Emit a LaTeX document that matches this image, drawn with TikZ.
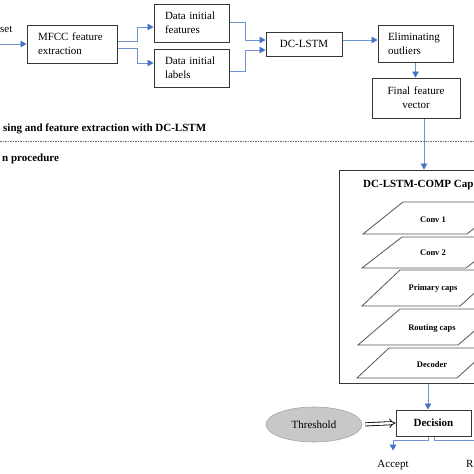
\documentclass[tikz,border=0pt]{standalone}
\usepackage{fontspec}
\setmainfont{Liberation Serif}
\usetikzlibrary{arrows.meta,shapes.geometric,calc}
\definecolor{arrblue}{RGB}{68,114,196}
\definecolor{linblue}{RGB}{112,146,206}
\definecolor{boxgray}{RGB}{55,55,55}
\definecolor{ellfill}{RGB}{200,200,200}
\definecolor{ellline}{RGB}{165,165,165}
\definecolor{dashgray}{RGB}{110,110,110}
\begin{document}
\begin{tikzpicture}[x=1pt,y=-1pt,
  every node/.style={font=\fontsize{11}{14}\selectfont},
  box/.style={draw=boxgray, line width=1pt, fill=white, inner xsep=11pt, font=\fontsize{11}{14}\selectfont},
  arr/.style={draw=linblue, line width=0.9pt, -{Triangle[length=6pt,width=6.5pt,color=arrblue]}},
  link/.style={draw=linblue, line width=0.9pt},
  layer/.style={draw=boxgray!85, line width=0.8pt, fill=white},
  lab/.style={font=\fontsize{8.5}{10}\selectfont\bfseries},
  sect/.style={font=\fontsize{11}{13}\selectfont\bfseries, anchor=base west, inner sep=0pt},
  dbl/.style={draw=black, double, double distance=2.4pt, line width=0.8pt, -{Implies[length=4pt]}, shorten <=3pt}
]
\useasboundingbox (0,0) rectangle (474,474);
\clip (0,0) rectangle (474,474);

% top row
\node[anchor=base west, inner sep=0pt] (ds) at (0,32) {set};
\coordinate (in) at (0,44);
\node[box, text width=68pt, align=left, minimum height=38pt] (mfcc) at (72,44) {MFCC feature\\extraction};
\node[box, text width=53pt, align=left, minimum height=38pt] (feat) at (191.5,23) {Data initial\\features};
\node[box, text width=53pt, align=left, minimum height=38pt] (labl) at (191.5,68) {Data initial\\labels};
\node[box, minimum width=76pt, minimum height=24pt] (dc) at (304,44) {DC-LSTM};
\node[box, text width=55pt, inner xsep=10pt, align=left, minimum height=37pt] (elim) at (415.5,43.5) {Eliminating\\outliers};
\node[box, text width=66pt, align=center, minimum height=40pt] (fin) at (416,98) {Final feature\\vector};

\draw[arr] (in) -- (mfcc.west);
\draw[arr] (mfcc.east |- 0,41) -- (137,41) |- (feat.west |- 0,27);
\draw[arr] (mfcc.east |- 0,48) -- (137,48) |- (labl.west |- 0,63);
\draw[arr] (feat.east |- 0,22) -- (245,22) |- (dc.west |- 0,40);
\draw[arr] (labl.east |- 0,71) -- (245,71) |- (dc.west |- 0,50);
\draw[arr] (dc.east |- 0,40) -- (elim.west |- 0,40);
\draw[arr] (elim.south) -- (elim.south |- fin.north);

% section labels and separator
\node[sect] (s1) at (3,131) {sing and feature extraction with DC-LSTM};
\draw[dashgray, line width=0.6pt, dash pattern=on 1.5pt off 1pt] (0,141) -- (474,141);
\node[sect] (s2) at (2,161) {n procedure};

% capsule network container
\node[box, minimum width=181pt, minimum height=213pt, inner sep=0pt] (comp) at (429.5,276.5) {};
\draw[arr] (fin.south -| 424,0) -- (comp.north -| 424,0);
\node[anchor=base west, inner sep=0pt, font=\fontsize{11}{13}\selectfont\bfseries] (title) at (363,187) {DC-LSTM-COMP Cap};

\draw[layer] (363,234) -- (403,202) -- (507,202) -- (467,234) -- cycle;
\node[lab] (c1) at (433,220) {Conv 1};
\draw[layer] (362,268) -- (402,237) -- (506,237) -- (466,268) -- cycle;
\node[lab] (c2) at (433,253) {Conv 2};
\draw[layer] (362,306) -- (400,270) -- (500,270) -- (460,306) -- cycle;
\node[lab] (pc) at (433,288) {Primary caps};
\draw[layer] (358,345) -- (400,309) -- (500,309) -- (458,345) -- cycle;
\node[lab] (rc) at (432,328) {Routing caps};
\draw[layer] (357,378) -- (389,348) -- (490,348) -- (457,378) -- cycle;
\node[lab] (dcd) at (432,365) {Decoder};

% decision part
\node[box, minimum width=75pt, minimum height=26pt, inner sep=0pt, font=\fontsize{11}{13}\selectfont\bfseries] (dec) at (433.5,423) {Decision};
\draw[arr] (comp.south -| 428,0) -- (dec.north -| 428,0);
\node[ellipse, fill=ellfill, draw=ellline, line width=0.6pt, minimum width=96pt, minimum height=35pt, inner sep=0pt] (thr) at (314,424.5) {Threshold};
\draw[dbl] (thr.east) -- (dec.west);

\node[inner sep=0pt, anchor=base] (acc) at (393,467) {Accept};
\draw[arr] (dec.south -| 428,0) -- (428,440) -| ([yshift=9pt]acc.north);
\node[inner sep=0pt, anchor=base west] (rej) at (466,467) {R};
\coordinate (rjend) at (480,440);
\draw[link] (dec.south -| 434,0) -- (434,440) -- (rjend);
\end{tikzpicture}
\end{document}
